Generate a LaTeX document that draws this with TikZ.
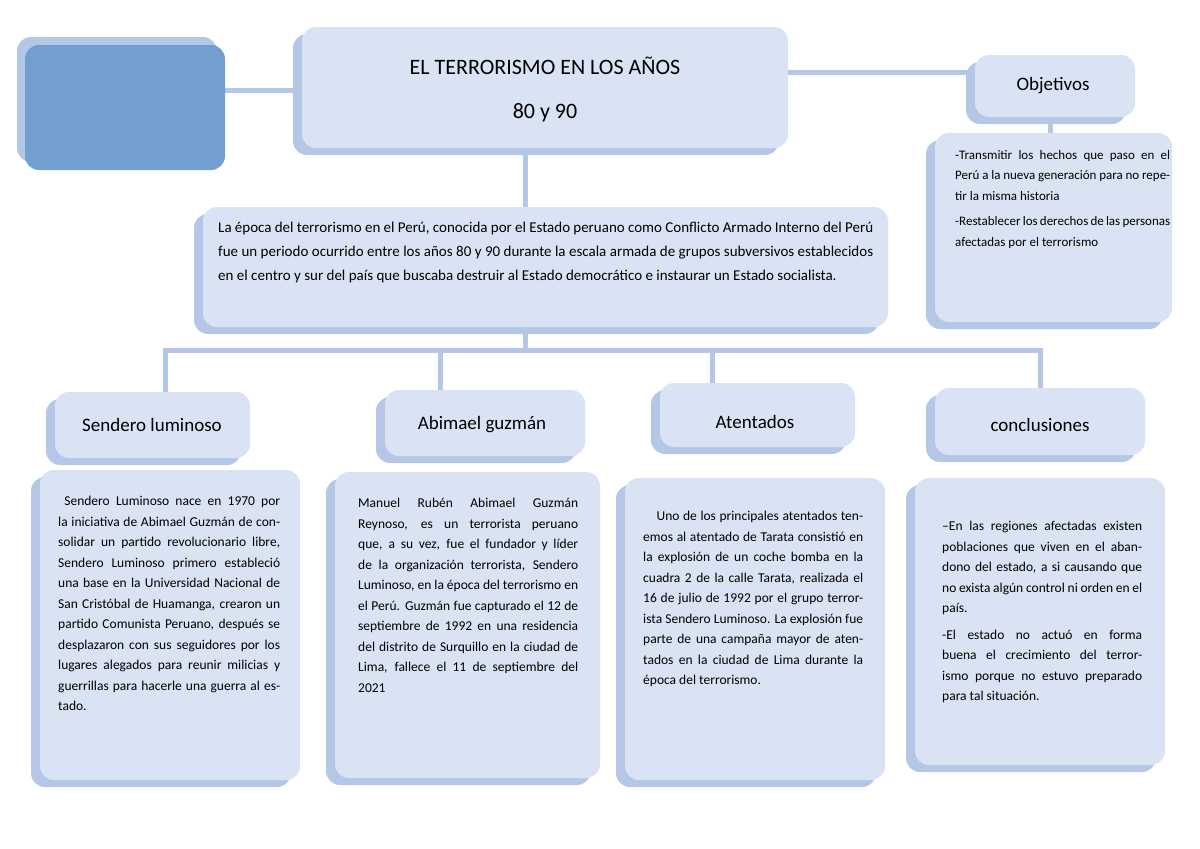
\documentclass[tikz,border=0pt]{standalone}
\usepackage{fontspec}
\setmainfont{Carlito}
\usetikzlibrary{calc}
\begin{document}
\begin{tikzpicture}[x=1pt,y=-1pt,
  conn/.style={draw=lnk,line width=5pt},
  txt/.style={font=\fontsize{13.5}{20.5}\selectfont,align=justify,anchor=north west,inner sep=0pt},
  head/.style={font=\fontsize{19}{22}\selectfont}]
\definecolor{lnk}{HTML}{B4C7E7}
\definecolor{frontc}{HTML}{DAE3F3}
\definecolor{darkc}{HTML}{729FCF}
\newcommand{\mybox}[5][frontc]{%
  \fill[lnk,rounded corners=14pt] ($(#2)+(-9,7)$) rectangle ($(#3)+(-9,7)$);
  \fill[#1,rounded corners=14pt] (#2) rectangle (#3);
  \coordinate (#4) at ($(#2)!0.5!(#3)$);}
\useasboundingbox (0,0) rectangle (1200,849);
\fill[white] (0,0) rectangle (1200,849);
% connectors
\coordinate (c1) at (225,90); \coordinate (c2) at (300,90);
\draw[conn] (c1) -- (c2);
\coordinate (t1) at (788,72); \coordinate (t2) at (970,72);
\draw[conn] (t1) -- (t2);
\coordinate (v1) at (525,148); \coordinate (v2) at (525,210);
\draw[conn] (v1) -- (v2);
\coordinate (h0) at (525,330); \coordinate (hm) at (525,350);
\coordinate (hl) at (165,350); \coordinate (hr) at (1040,350);
\draw[conn] (h0) -- (hm); \draw[conn] (hl) -- (hr);
\foreach \x/\y in {165/395,440/393,712/386,1040/392}{
  \draw[conn] (\x,348) -- (\x,\y);}
\coordinate (ob1) at (1050,117); \coordinate (ob2) at (1050,135);
\draw[conn] (ob1) -- (ob2);
% boxes
\fill[lnk,rounded corners=14pt] (17,37) rectangle (217,162);
\fill[darkc,rounded corners=14pt] (25,45) rectangle (225,170);
\mybox{302,27}{788,148}{tb}{}
\node[head,font=\fontsize{22}{24}\selectfont] (title1) at (545,66) {EL TERRORISMO EN LOS AÑOS};
\node[head,font=\fontsize{22}{24}\selectfont] (title2) at (545,113) {80 y 90};
\mybox{975,55}{1135,117}{ob}{}
\node[head] (objt) at (1053,86) {Objetivos};
\mybox{935,133}{1172,322}{obt}{}
\node[txt,text width=215pt,font=\fontsize{13}{20.5}\selectfont] (objtext) at (955,150) {-Transmitir los hechos que paso en el Perú a la nueva generación para no repetir la misma historia\par\vspace{5pt}-Restablecer los derechos de las personas afectadas por el terrorismo\par};
\mybox{203,207}{888,327}{mb}{}
\node[txt,text width=655pt,font=\fontsize{15}{24}\selectfont] (maintext) at (218,222) {La época del terrorismo en el Perú, conocida por el Estado peruano como Conflicto Armado Interno del Perú fue un periodo ocurrido entre los años 80 y 90 durante la escala armada de grupos subversivos establecidos en el centro y sur del país que buscaba destruir al Estado democrático e instaurar un Estado socialista.};
\mybox{55,392}{250,458}{s1}{}
\node[head] (s1t) at (152,425) {Sendero luminoso};
\mybox{385,390}{585,456}{s2}{}
\node[head] (s2t) at (482,425) {Abimael guzmán};
\mybox{660,383}{855,447}{s3}{}
\node[head] (s3t) at (755,422) {Atentados};
\mybox{935,388}{1145,455}{s4}{}
\node[head] (s4t) at (1040,425) {conclusiones};
\mybox{40,470}{300,780}{b1}{}
\node[txt,text width=222pt] (b1t) at (58,496) {\ Sendero Luminoso nace en 1970 por la iniciativa de Abimael Guzmán de consolidar un partido revolucionario libre, Sendero Luminoso primero estableció una base en la Universidad Nacional de San Cristóbal de Huamanga, crearon un partido Comunista Peruano, después se desplazaron con sus seguidores por los lugares alegados para reunir milicias y guerrillas para hacerle una guerra al estado.\par};
\mybox{335,472}{600,778}{b2}{}
\node[txt,text width=220pt] (b2t) at (358,498) {Manuel Rubén Abimael Guzmán Reynoso, es un terrorista peruano que, a su vez, fue el fundador y líder de la organización terrorista, Sendero Luminoso, en la época del terrorismo en el Perú. Guzmán fue capturado el 12 de septiembre de 1992 en una residencia del distrito de Surquillo en la ciudad de Lima, fallece el 11 de septiembre del 2021\par};
\mybox{625,478}{885,780}{b3}{}
\node[txt,text width=220pt] (b3t) at (643,511) {\quad Uno de los principales atentados tenemos al atentado de Tarata consistió en la explosión de un coche bomba en la cuadra 2 de la calle Tarata, realizada el 16 de julio de 1992 por el grupo terrorista Sendero Luminoso. La explosión fue parte de una campaña mayor de atentados en la ciudad de Lima durante la época del terrorismo.\par};
\mybox{915,478}{1165,765}{b4}{}
\node[txt,text width=200pt] (b4t) at (942,521) {–En las regiones afectadas existen poblaciones que viven en el abandono del estado, a si causando que no exista algún control ni orden en el país.\par\vspace{6pt}-El estado no actuó en forma buena el crecimiento del terrorismo porque no estuvo preparado para tal situación.\par};
\end{tikzpicture}
\end{document}
